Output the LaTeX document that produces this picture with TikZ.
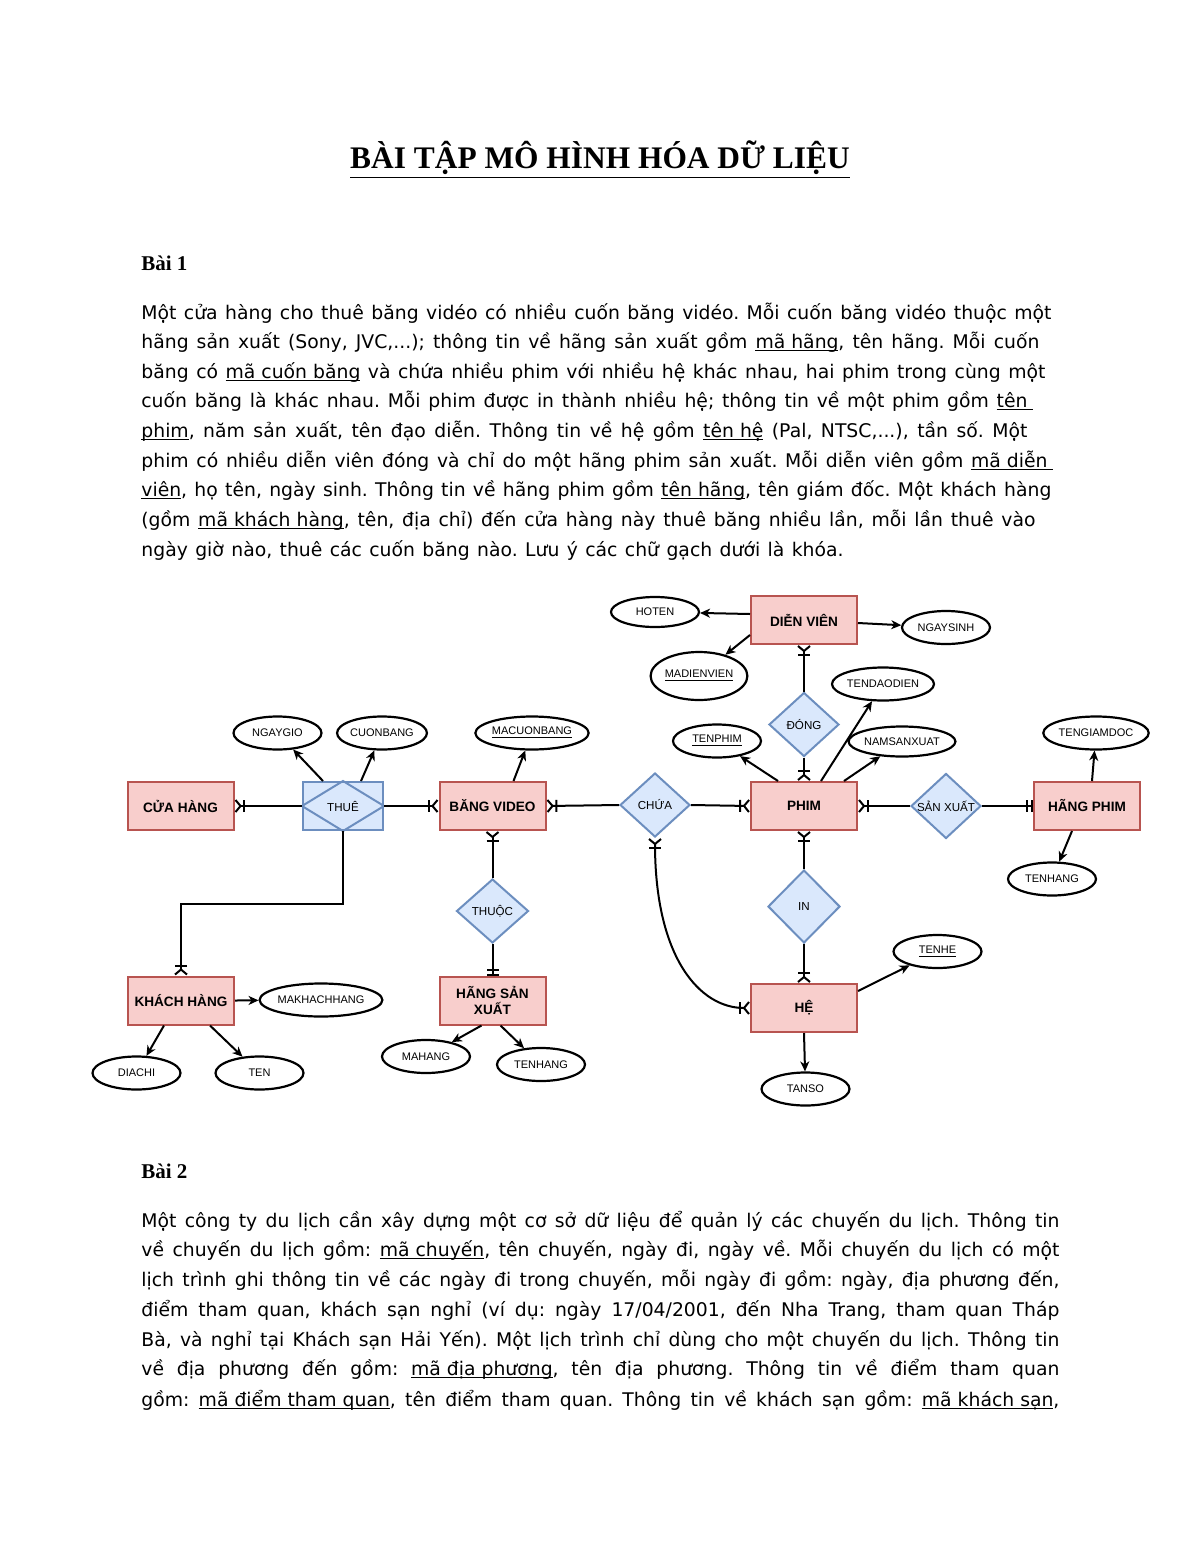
\documentclass[tikz,border=0pt]{standalone}
\usepackage{fontspec}
\setmainfont{Liberation Serif}
\newfontfamily\bodyfont{DejaVu Sans}
\newfontfamily\dfont{Liberation Sans}
\usetikzlibrary{shapes.geometric,arrows.meta,calc}
\definecolor{epink}{HTML}{F8CECC}
\definecolor{eborder}{HTML}{B85450}
\definecolor{rblue}{HTML}{DAE8FC}
\definecolor{rborder}{HTML}{6C8EBF}
\newcommand\myul[1]{\underline{\smash{#1}}}
\frenchspacing
\tikzset{
  txtline/.style={anchor=base west, inner sep=0pt, font=\bodyfont\fontsize{9.4}{11}\selectfont},
  heading/.style={anchor=base west, inner sep=0pt, font=\bfseries\fontsize{10.5}{12}\selectfont},
  ent/.style={draw=eborder, fill=epink, line width=1pt, minimum width=53pt, minimum height=24pt,
    inner sep=1pt, align=center, font=\dfont\bfseries\fontsize{6.8}{8}\selectfont},
  relbox/.style={draw=rborder, fill=rblue, line width=1pt, minimum width=40pt, minimum height=24pt,
    inner sep=0pt, font=\dfont\fontsize{5.8}{7}\selectfont},
  rel/.style={diamond, draw=rborder, fill=rblue, line width=1pt, inner sep=0pt},
  rlab/.style={font=\dfont\fontsize{5.8}{7}\selectfont, inner sep=0pt},
  attr/.style={ellipse, draw=black, fill=white, line width=1.1pt, minimum width=44pt,
    minimum height=16.5pt, inner sep=0pt, font=\dfont\fontsize{5.5}{6}\selectfont},
  att/.style={line width=1pt, -{Stealth[length=5pt,width=4.5pt,inset=1.5pt]}},
  many/.style={line width=1pt, -{Bar[width=6pt,sep=0.8pt]Straight Barb[reversed,length=2.5pt,width=6pt]}},
  manyboth/.style={line width=1pt, {Straight Barb[reversed,length=2.5pt,width=6pt]Bar[width=6pt,sep=0.8pt]}-{Bar[width=6pt,sep=0.8pt]Straight Barb[reversed,length=2.5pt,width=6pt]}},
  one/.style={line width=1pt, -{Bar[width=6pt,sep=1.5pt]Bar[width=6pt]}}
}
\begin{document}
\begin{tikzpicture}[x=0.5pt,y=-0.5pt]
\fill[white] (0,0) rectangle (1200,1553);
\useasboundingbox (0,0) rectangle (1200,1553);

% ---------- title and text ----------
\node[inner sep=0pt, font=\bfseries\fontsize{15.7}{18}\selectfont] (title) at (600,160) {\underline{BÀI TẬP MÔ HÌNH HÓA DỮ LIỆU}};
\node[heading] (bai1) at (141,270) {Bài 1};

\node[txtline] (a1) at (141,319) {\makebox[455pt][s]{Một cửa hàng cho thuê băng vidéo có nhiều cuốn băng vidéo. Mỗi cuốn băng vidéo thuộc một}};
\node[txtline] (a2) at (141,348) {\makebox[449pt][s]{hãng sản xuất (Sony, JVC,...); thông tin về hãng sản xuất gồm \myul{mã hãng}, tên hãng. Mỗi cuốn}};
\node[txtline] (a3) at (141,378) {\makebox[452pt][s]{băng có \myul{mã cuốn băng} và chứa nhiều phim với nhiều hệ khác nhau, hai phim trong cùng một}};
\node[txtline] (a4) at (141,407) {\makebox[446pt][s]{cuốn băng là khác nhau. Mỗi phim được in thành nhiều hệ; thông tin về một phim gồm \myul{tên\ }}};
\node[txtline] (a5) at (141,437) {\makebox[443pt][s]{\myul{phim}, năm sản xuất, tên đạo diễn. Thông tin về hệ gồm \myul{tên hệ} (Pal, NTSC,...), tần số. Một}};
\node[txtline] (a6) at (141,467) {\makebox[456pt][s]{phim có nhiều diễn viên đóng và chỉ do một hãng phim sản xuất. Mỗi diễn viên gồm \myul{mã diễn\ }}};
\node[txtline] (a7) at (141,496) {\makebox[455pt][s]{\myul{viên}, họ tên, ngày sinh. Thông tin về hãng phim gồm \myul{tên hãng}, tên giám đốc. Một khách hàng}};
\node[txtline] (a8) at (141,526) {\makebox[447pt][s]{(gồm \myul{mã khách hàng}, tên, địa chỉ) đến cửa hàng này thuê băng nhiều lần, mỗi lần thuê vào}};
\node[txtline] (a9) at (141,556) {\makebox[351pt][s]{ngày giờ nào, thuê các cuốn băng nào. Lưu ý các chữ gạch dưới là khóa.}};

\node[heading] (bai2) at (141,1178) {Bài 2};
\node[txtline] (b1) at (141,1227) {\makebox[459pt][s]{Một công ty du lịch cần xây dựng một cơ sở dữ liệu để quản lý các chuyến du lịch. Thông tin}};
\node[txtline] (b2) at (141,1256) {\makebox[459pt][s]{về chuyến du lịch gồm: \myul{mã chuyến}, tên chuyến, ngày đi, ngày về. Mỗi chuyến du lịch có một}};
\node[txtline] (b3) at (141,1286) {\makebox[459pt][s]{lịch trình ghi thông tin về các ngày đi trong chuyến, mỗi ngày đi gồm: ngày, địa phương đến,}};
\node[txtline] (b4) at (141,1316) {\makebox[459pt][s]{điểm tham quan, khách sạn nghỉ (ví dụ: ngày 17/04/2001, đến Nha Trang, tham quan Tháp}};
\node[txtline] (b5) at (141,1346) {\makebox[459pt][s]{Bà, và nghỉ tại Khách sạn Hải Yến). Một lịch trình chỉ dùng cho một chuyến du lịch. Thông tin}};
\node[txtline] (b6) at (141,1375) {\makebox[459pt][s]{về địa phương đến gồm: \myul{mã địa phương}, tên địa phương. Thông tin về điểm tham quan}};
\node[txtline] (b7) at (141,1406) {\makebox[459pt][s]{gồm: \myul{mã điểm tham quan}, tên điểm tham quan. Thông tin về khách sạn gồm: \myul{mã khách sạn},}};

% ---------- entities ----------
\node[ent] (ch)  at (180.5,806) {CỬA HÀNG};
\node[ent] (bv)  at (492.5,806) {BĂNG VIDEO};
\node[ent] (phim) at (804,806) {PHIM};
\node[ent] (hp)  at (1087,806) {HÃNG PHIM};
\node[ent] (dv)  at (804,620) {DIỄN VIÊN};
\node[ent] (he)  at (804,1008) {HỆ};
\node[ent] (hsx) at (492.5,1000.5) {HÃNG SẢN\\XUẤT};
\node[ent] (kh)  at (181,1000.5) {KHÁCH HÀNG};

% ---------- relationships ----------
\node[relbox] (thue) at (343,806) {};
\draw[rborder, line width=1pt] (thue.west) -- (thue.north) -- (thue.east) -- (thue.south) -- cycle;
\node[rlab] (thuelab) at (thue) {THUÊ};
\node[rel, minimum width=35pt, minimum height=32pt, label={[rlab]center:CHỨA}] (chua) at (655,805) {};
\node[rel, minimum width=35pt, minimum height=32.5pt, label={[rlab]center:SẢN XUẤT}] (sx) at (946,806) {};
\node[rel, minimum width=35pt, minimum height=32pt, label={[rlab]center:ĐÓNG}] (dong) at (804,724.5) {};
\node[rel, minimum width=36pt, minimum height=36.5pt, label={[rlab]center:IN}] (inrel) at (804,906.5) {};
\node[rel, minimum width=36pt, minimum height=32pt, label={[rlab]center:THUỘC}] (thuoc) at (492.5,911) {};

% ---------- attributes ----------
\node[attr] (ngaygio) at (277.5,733) {NGAYGIO};
\node[attr] (cuonbang) at (382,733) {CUONBANG};
\node[attr] (macb) at (532,733) {\underline{MACUONBANG}};
\node[attr, minimum height=15pt] (hoten) at (655,612) {HOTEN};
\node[attr] (ngaysinh) at (946,627.5) {NGAYSINH};
\node[attr, minimum height=24pt] (madv) at (699,676) {\underline{MADIENVIEN}};
\node[attr, minimum width=45pt] (tendd) at (883,684) {TENDAODIEN};
\node[attr] (tenphim) at (717,741) {\underline{TENPHIM}};
\node[attr, minimum height=15pt] (namsx) at (902,741.5) {NAMSANXUAT};
\node[attr] (tengd) at (1096,733) {TENGIAMDOC};
\node[attr] (tenhang) at (1052,879) {TENHANG};
\node[attr] (tenhe) at (937.5,951.5) {\underline{TENHE}};
\node[attr] (tanso) at (805.5,1089) {TANSO};
\node[attr] (makh) at (321,1000) {MAKHACHHANG};
\node[attr] (diachi) at (136.5,1073) {DIACHI};
\node[attr] (ten) at (259.5,1073) {TEN};
\node[attr] (mahang) at (426,1056.5) {MAHANG};
\node[attr] (tenhang2) at (541,1064.5) {TENHANG};

% ---------- attribute arrows ----------
\draw[att] ($(thue.north)+(-20,0)$) -- (ngaygio);
\draw[att] ($(thue.north)+(18,0)$) -- (cuonbang);
\draw[att] ($(bv.north)+(21,0)$) -- (macb);
\draw[att] ($(dv.west)+(0,-6)$) -- (hoten);
\draw[att] ($(dv.west)+(0,15)$) -- (madv);
\draw[att] ($(dv.east)+(0,3)$) -- (ngaysinh);
\draw[att] ($(phim.north)+(-26,0)$) -- (tenphim);
\draw[att] ($(phim.north)+(17,0)$) -- (tendd);
\draw[att] ($(phim.north)+(40,0)$) -- (namsx);
\draw[att] ($(hp.north)+(5,0)$) -- (tengd);
\draw[att] ($(hp.south)+(-15,0)$) -- (tenhang);
\draw[att] ($(he.east)+(0,-17)$) -- (tenhe);
\draw[att] (he.south) -- (tanso);
\draw[att] (kh.east) -- (makh);
\draw[att] ($(kh.south)+(-17,0)$) -- (diachi);
\draw[att] ($(kh.south)+(29,0)$) -- (ten);
\draw[att] ($(hsx.south)+(-11,0)$) -- (mahang);
\draw[att] ($(hsx.south)+(8,0)$) -- (tenhang2);

% ---------- relationship connectors ----------
\draw[many] (thue.west) -- (ch.east);
\draw[many] (thue.east) -- (bv.west);
\draw[many] (thue.south) -- ++(0,73) -| (kh.north);
\draw[many] (chua.west) -- (bv.east);
\draw[many] (chua.east) -- (phim.west);
\draw[many] (sx.west) -- (phim.east);
\draw[one] (sx.east) -- (hp.west);
\draw[many] (dong.north) -- (dv.south);
\draw[many] (dong.south) -- (phim.north);
\draw[many] (inrel.north) -- (phim.south);
\draw[many] (inrel.south) -- (he.north);
\draw[many] (thuoc.north) -- (bv.south);
\draw[one] (thuoc.south) -- (hsx.north);
\draw[manyboth] (chua.south) .. controls +(0,120) and +(-50,0) .. (he.west);
\end{tikzpicture}
\end{document}
